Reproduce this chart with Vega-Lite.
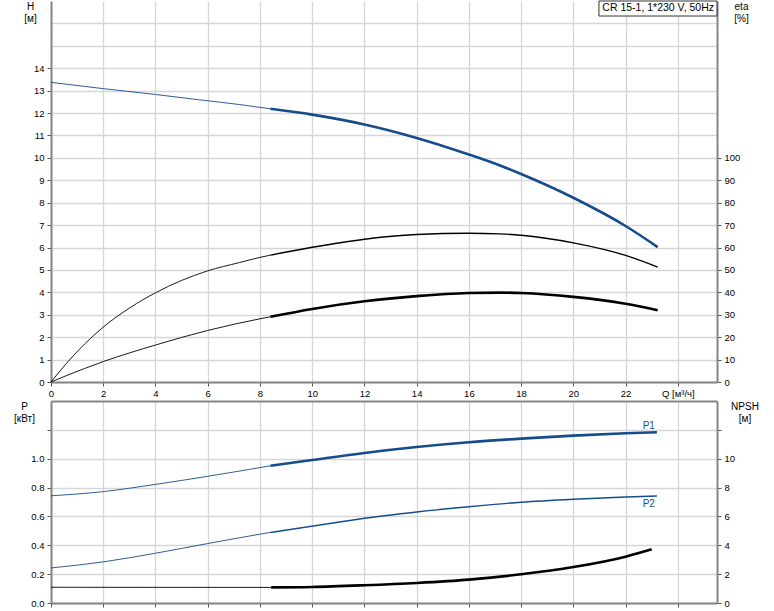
{
  "$schema": "https://vega.github.io/schema/vega-lite/v6.json",
  "padding": {"left": 13, "top": 0, "right": 5, "bottom": 0},
  "spacing": 19,
  "bounds": "flush",
  "datasets": {
    "curves": [
      {"curve": "H", "part": "thin", "Q": 0, "value": 13.37},
      {"curve": "H", "part": "thin", "Q": 2, "value": 13.09},
      {"curve": "H", "part": "thin", "Q": 4, "value": 12.83},
      {"curve": "H", "part": "thin", "Q": 5.68, "value": 12.59},
      {"curve": "H", "part": "thin", "Q": 7.22, "value": 12.38},
      {"curve": "H", "part": "thin", "Q": 8.4, "value": 12.19},
      {"curve": "H", "part": "thick", "Q": 8.4, "value": 12.19},
      {"curve": "H", "part": "thick", "Q": 10, "value": 11.93},
      {"curve": "H", "part": "thick", "Q": 12, "value": 11.49},
      {"curve": "H", "part": "thick", "Q": 14, "value": 10.89},
      {"curve": "H", "part": "thick", "Q": 16, "value": 10.15},
      {"curve": "H", "part": "thick", "Q": 17.19, "value": 9.66},
      {"curve": "H", "part": "thick", "Q": 18, "value": 9.28},
      {"curve": "H", "part": "thick", "Q": 20, "value": 8.22},
      {"curve": "H", "part": "thick", "Q": 22, "value": 6.96},
      {"curve": "H", "part": "thick", "Q": 23.23, "value": 6.02},
      {"curve": "eta pump", "part": "thin", "Q": 0, "value": 0},
      {"curve": "eta pump", "part": "thin", "Q": 0.56, "value": 7.9},
      {"curve": "eta pump", "part": "thin", "Q": 2, "value": 24.5},
      {"curve": "eta pump", "part": "thin", "Q": 3.02, "value": 33.1},
      {"curve": "eta pump", "part": "thin", "Q": 4, "value": 39.8},
      {"curve": "eta pump", "part": "thin", "Q": 6, "value": 49.6},
      {"curve": "eta pump", "part": "thin", "Q": 7.22, "value": 53.3},
      {"curve": "eta pump", "part": "thin", "Q": 8, "value": 55.6},
      {"curve": "eta pump", "part": "thin", "Q": 8.4, "value": 56.6},
      {"curve": "eta pump", "part": "medium", "Q": 8.4, "value": 56.6},
      {"curve": "eta pump", "part": "medium", "Q": 10, "value": 60.1},
      {"curve": "eta pump", "part": "medium", "Q": 12, "value": 63.7},
      {"curve": "eta pump", "part": "medium", "Q": 14, "value": 65.8},
      {"curve": "eta pump", "part": "medium", "Q": 16, "value": 66.4},
      {"curve": "eta pump", "part": "medium", "Q": 17.19, "value": 66.1},
      {"curve": "eta pump", "part": "medium", "Q": 18, "value": 65.5},
      {"curve": "eta pump", "part": "medium", "Q": 20, "value": 62.1},
      {"curve": "eta pump", "part": "medium", "Q": 22, "value": 56.5},
      {"curve": "eta pump", "part": "medium", "Q": 23.23, "value": 51.3},
      {"curve": "eta total", "part": "thin", "Q": 0, "value": 0},
      {"curve": "eta total", "part": "thin", "Q": 0.56, "value": 2.7},
      {"curve": "eta total", "part": "thin", "Q": 2, "value": 9.1},
      {"curve": "eta total", "part": "thin", "Q": 4, "value": 16.5},
      {"curve": "eta total", "part": "thin", "Q": 6, "value": 23.0},
      {"curve": "eta total", "part": "thin", "Q": 8, "value": 28.2},
      {"curve": "eta total", "part": "thin", "Q": 8.4, "value": 29.1},
      {"curve": "eta total", "part": "thick", "Q": 8.4, "value": 29.1},
      {"curve": "eta total", "part": "thick", "Q": 10, "value": 32.6},
      {"curve": "eta total", "part": "thick", "Q": 12, "value": 36.0},
      {"curve": "eta total", "part": "thick", "Q": 14, "value": 38.3},
      {"curve": "eta total", "part": "thick", "Q": 16, "value": 39.7},
      {"curve": "eta total", "part": "thick", "Q": 17.19, "value": 39.9},
      {"curve": "eta total", "part": "thick", "Q": 18, "value": 39.7},
      {"curve": "eta total", "part": "thick", "Q": 20, "value": 38.0},
      {"curve": "eta total", "part": "thick", "Q": 22, "value": 34.9},
      {"curve": "eta total", "part": "thick", "Q": 23.23, "value": 32.0},
      {"curve": "P1", "part": "thin", "Q": 0, "value": 0.743},
      {"curve": "P1", "part": "thin", "Q": 2, "value": 0.772},
      {"curve": "P1", "part": "thin", "Q": 4, "value": 0.822},
      {"curve": "P1", "part": "thin", "Q": 6, "value": 0.878},
      {"curve": "P1", "part": "thin", "Q": 7.6, "value": 0.926},
      {"curve": "P1", "part": "thin", "Q": 8.4, "value": 0.951},
      {"curve": "P1", "part": "thick", "Q": 8.4, "value": 0.951},
      {"curve": "P1", "part": "thick", "Q": 10, "value": 0.991},
      {"curve": "P1", "part": "thick", "Q": 12, "value": 1.04},
      {"curve": "P1", "part": "thick", "Q": 14, "value": 1.081},
      {"curve": "P1", "part": "thick", "Q": 16, "value": 1.114},
      {"curve": "P1", "part": "thick", "Q": 18, "value": 1.139},
      {"curve": "P1", "part": "thick", "Q": 20, "value": 1.16},
      {"curve": "P1", "part": "thick", "Q": 22, "value": 1.176},
      {"curve": "P1", "part": "thick", "Q": 23.2, "value": 1.183},
      {"curve": "P2", "part": "thin", "Q": 0, "value": 0.243},
      {"curve": "P2", "part": "thin", "Q": 2, "value": 0.285},
      {"curve": "P2", "part": "thin", "Q": 4, "value": 0.345},
      {"curve": "P2", "part": "thin", "Q": 6, "value": 0.412},
      {"curve": "P2", "part": "thin", "Q": 8, "value": 0.477},
      {"curve": "P2", "part": "thin", "Q": 8.4, "value": 0.489},
      {"curve": "P2", "part": "medium", "Q": 8.4, "value": 0.489},
      {"curve": "P2", "part": "medium", "Q": 11.3, "value": 0.568},
      {"curve": "P2", "part": "medium", "Q": 12, "value": 0.587},
      {"curve": "P2", "part": "medium", "Q": 14, "value": 0.631},
      {"curve": "P2", "part": "medium", "Q": 16, "value": 0.667},
      {"curve": "P2", "part": "medium", "Q": 18, "value": 0.698},
      {"curve": "P2", "part": "medium", "Q": 20, "value": 0.719},
      {"curve": "P2", "part": "medium", "Q": 22, "value": 0.735},
      {"curve": "P2", "part": "medium", "Q": 23.2, "value": 0.742},
      {"curve": "NPSH", "part": "thin", "Q": 0, "value": 1.09},
      {"curve": "NPSH", "part": "thin", "Q": 8.43, "value": 1.08},
      {"curve": "NPSH", "part": "thick", "Q": 8.43, "value": 1.08},
      {"curve": "NPSH", "part": "thick", "Q": 10, "value": 1.11},
      {"curve": "NPSH", "part": "thick", "Q": 12, "value": 1.23},
      {"curve": "NPSH", "part": "thick", "Q": 14, "value": 1.39},
      {"curve": "NPSH", "part": "thick", "Q": 16, "value": 1.62},
      {"curve": "NPSH", "part": "thick", "Q": 18, "value": 1.99},
      {"curve": "NPSH", "part": "thick", "Q": 20, "value": 2.49},
      {"curve": "NPSH", "part": "thick", "Q": 22, "value": 3.21},
      {"curve": "NPSH", "part": "thick", "Q": 23.0, "value": 3.72}
    ]
  },
  "vconcat": [
    {
      "width": 666,
      "height": 381,
      "layer": [
        {
          "layer": [
            {
              "data": {"name": "curves"},
              "transform": [{"filter": "datum.curve == 'H'"}],
              "mark": {"type": "line", "interpolate": "monotone", "color": "#154c8c"},
              "encoding": {
                "x": {
                  "field": "Q", "type": "quantitative",
                  "scale": {"domain": [0, 25.5], "nice": false},
                  "axis": {
                    "values": [0, 2, 4, 6, 8, 10, 12, 14, 16, 18, 20, 22, 24],
                    "labelExpr": "datum.value == 24 ? 'Q [м³/ч]' : datum.label",
                    "labelFlush": false, "labelOverlap": false, "labelPadding": 2,
                    "title": null
                  }
                },
                "y": {
                  "field": "value", "type": "quantitative",
                  "scale": {"domain": [0, 17], "nice": false},
                  "axis": {
                    "values": [0, 1, 2, 3, 4, 5, 6, 7, 8, 9, 10, 11, 12, 13, 14, 15, 16],
                    "labelExpr": "datum.value <= 14 ? datum.label : ''",
                    "labelOverlap": false,
                    "tickOpacity": {"condition": {"test": "datum.value > 14.5", "value": 0}, "value": 1},
                    "title": ["H", "[м]"], "titleX": -21, "titleY": 0
                  }
                },
                "strokeWidth": {
                  "field": "part", "type": "nominal",
                  "scale": {"type": "ordinal", "domain": ["thin", "medium", "thick"], "range": [0.9, 1.4, 2.6]},
                  "legend": null
                }
              }
            },
            {
              "data": {"values": [{"label": "CR 15-1, 1*230 V, 50Hz"}]},
              "mark": {"type": "rect", "fill": "white", "stroke": "#333", "strokeWidth": 1},
              "encoding": {
                "x": {"datum": 20.98, "type": "quantitative"},
                "x2": {"datum": 25.5},
                "y": {
                  "datum": 17, "type": "quantitative",
                  "axis": {
                    "values": [0, 1, 2, 3, 4, 5, 6, 7, 8, 9, 10, 11, 12, 13, 14, 15, 16],
                    "labelExpr": "datum.value <= 14 ? datum.label : ''",
                    "labelOverlap": false,
                    "tickOpacity": {"condition": {"test": "datum.value > 14.5", "value": 0}, "value": 1},
                    "title": ["H", "[м]"], "titleX": -21, "titleY": 0
                  }
                },
                "y2": {"datum": 16.33}
              }
            },
            {
              "data": {"values": [{"label": "CR 15-1, 1*230 V, 50Hz"}]},
              "mark": {"type": "text", "align": "right", "baseline": "top", "dx": -3, "dy": 2, "fontSize": 10.5, "color": "#000", "font": "Liberation Sans"},
              "encoding": {
                "x": {"datum": 25.5, "type": "quantitative"},
                "y": {
                  "datum": 17, "type": "quantitative",
                  "axis": {
                    "values": [0, 1, 2, 3, 4, 5, 6, 7, 8, 9, 10, 11, 12, 13, 14, 15, 16],
                    "labelExpr": "datum.value <= 14 ? datum.label : ''",
                    "labelOverlap": false,
                    "tickOpacity": {"condition": {"test": "datum.value > 14.5", "value": 0}, "value": 1},
                    "title": ["H", "[м]"], "titleX": -21, "titleY": 0
                  }
                },
                "text": {"field": "label"}
              }
            }
          ]
        },
        {
          "data": {"name": "curves"},
          "transform": [{"filter": "datum.curve == 'eta pump' || datum.curve == 'eta total'"}],
          "mark": {"type": "line", "interpolate": "monotone", "color": "#000"},
          "encoding": {
            "x": {"field": "Q", "type": "quantitative"},
            "y": {
              "field": "value", "type": "quantitative",
              "scale": {"domain": [0, 170], "nice": false},
              "axis": {
                "orient": "right", "grid": false, "labelOverlap": false,
                "values": [0, 10, 20, 30, 40, 50, 60, 70, 80, 90, 100],
                "title": ["eta", "[%]"], "titleX": 24, "titleY": 0
              }
            },
            "detail": {"field": "curve"},
            "strokeWidth": {
              "field": "part", "type": "nominal",
              "scale": {"type": "ordinal", "domain": ["thin", "medium", "thick"], "range": [0.9, 1.4, 2.6]},
              "legend": null
            }
          }
        }
      ],
      "resolve": {"scale": {"y": "independent"}}
    },
    {
      "width": 666,
      "height": 202,
      "layer": [
        {
          "layer": [
            {
              "data": {"name": "curves"},
              "transform": [{"filter": "datum.curve == 'P1' || datum.curve == 'P2'"}],
              "mark": {"type": "line", "interpolate": "monotone", "color": "#154c8c"},
              "encoding": {
                "x": {
                  "field": "Q", "type": "quantitative",
                  "scale": {"domain": [0, 25.5], "nice": false},
                  "axis": {
                    "values": [0, 2, 4, 6, 8, 10, 12, 14, 16, 18, 20, 22, 24],
                    "labels": false, "title": null
                  }
                },
                "y": {
                  "field": "value", "type": "quantitative",
                  "scale": {"domain": [0, 1.4], "nice": false},
                  "axis": {
                    "values": [0, 0.2, 0.4, 0.6, 0.8, 1.0, 1.2, 1.4],
                    "format": ".1f",
                    "labelExpr": "datum.value < 1.1 ? datum.label : ''",
                    "labelOverlap": false,
                    "tickOpacity": {"condition": {"test": "datum.value > 1.3", "value": 0}, "value": 1},
                    "gridColor": {"condition": {"test": "datum.value > 1.3", "value": "#858585"}, "value": "#d6d6d6"},
                    "gridWidth": {"condition": {"test": "datum.value > 1.3", "value": 2}, "value": 1.3},
                    "title": ["P", "[кВт]"], "titleX": -27, "titleY": 0
                  }
                },
                "detail": {"field": "curve"},
                "strokeWidth": {
                  "field": "part", "type": "nominal",
                  "scale": {"type": "ordinal", "domain": ["thin", "medium", "thick"], "range": [0.9, 1.4, 2.6]},
                  "legend": null
                }
              }
            },
            {
              "data": {"name": "curves"},
              "transform": [
                {"filter": "datum.curve == 'P1'"},
                {"joinaggregate": [{"op": "max", "field": "Q", "as": "Qmax"}]},
                {"filter": "datum.Q == datum.Qmax"}
              ],
              "mark": {"type": "text", "align": "right", "baseline": "bottom", "dx": -2, "dy": -1, "fontSize": 10, "color": "#154c8c", "font": "Liberation Sans"},
              "encoding": {
                "x": {"field": "Q", "type": "quantitative"},
                "y": {
                  "field": "value", "type": "quantitative",
                  "axis": {
                    "values": [0, 0.2, 0.4, 0.6, 0.8, 1.0, 1.2, 1.4],
                    "format": ".1f",
                    "labelExpr": "datum.value < 1.1 ? datum.label : ''",
                    "labelOverlap": false,
                    "tickOpacity": {"condition": {"test": "datum.value > 1.3", "value": 0}, "value": 1},
                    "gridColor": {"condition": {"test": "datum.value > 1.3", "value": "#858585"}, "value": "#d6d6d6"},
                    "gridWidth": {"condition": {"test": "datum.value > 1.3", "value": 2}, "value": 1.3},
                    "title": ["P", "[кВт]"], "titleX": -27, "titleY": 0
                  }
                },
                "text": {"field": "curve"}
              }
            },
            {
              "data": {"name": "curves"},
              "transform": [
                {"filter": "datum.curve == 'P2'"},
                {"joinaggregate": [{"op": "max", "field": "Q", "as": "Qmax"}]},
                {"filter": "datum.Q == datum.Qmax"}
              ],
              "mark": {"type": "text", "align": "right", "baseline": "top", "dx": -2, "dy": 3, "fontSize": 10, "color": "#154c8c", "font": "Liberation Sans"},
              "encoding": {
                "x": {"field": "Q", "type": "quantitative"},
                "y": {
                  "field": "value", "type": "quantitative",
                  "axis": {
                    "values": [0, 0.2, 0.4, 0.6, 0.8, 1.0, 1.2, 1.4],
                    "format": ".1f",
                    "labelExpr": "datum.value < 1.1 ? datum.label : ''",
                    "labelOverlap": false,
                    "tickOpacity": {"condition": {"test": "datum.value > 1.3", "value": 0}, "value": 1},
                    "gridColor": {"condition": {"test": "datum.value > 1.3", "value": "#858585"}, "value": "#d6d6d6"},
                    "gridWidth": {"condition": {"test": "datum.value > 1.3", "value": 2}, "value": 1.3},
                    "title": ["P", "[кВт]"], "titleX": -27, "titleY": 0
                  }
                },
                "text": {"field": "curve"}
              }
            }
          ]
        },
        {
          "data": {"name": "curves"},
          "transform": [{"filter": "datum.curve == 'NPSH'"}],
          "mark": {"type": "line", "interpolate": "monotone", "color": "#000"},
          "encoding": {
            "x": {"field": "Q", "type": "quantitative"},
            "y": {
              "field": "value", "type": "quantitative",
              "scale": {"domain": [0, 14], "nice": false},
              "axis": {
                "orient": "right", "grid": false, "labelOverlap": false,
                "values": [0, 2, 4, 6, 8, 10, 12, 14],
                "labelExpr": "datum.value < 11 ? datum.label : ''",
                "tickOpacity": {"condition": {"test": "datum.value > 13", "value": 0}, "value": 1},
                "title": ["NPSH", "[м]"], "titleX": 27.5, "titleY": 0
              }
            },
            "strokeWidth": {
              "field": "part", "type": "nominal",
              "scale": {"type": "ordinal", "domain": ["thin", "medium", "thick"], "range": [0.9, 1.4, 2.6]},
              "legend": null
            }
          }
        }
      ],
      "resolve": {"scale": {"y": "independent"}}
    }
  ],
  "config": {
    "font": "Liberation Sans",
    "view": {"stroke": null},
    "axis": {
      "labelFont": "Liberation Sans", "labelFontSize": 9.5, "labelColor": "#000",
      "labelOverlap": false,
      "tickColor": "#555", "tickSize": 4, "tickWidth": 1,
      "domainColor": "#858585", "domainWidth": 2,
      "grid": true, "gridColor": "#d6d6d6", "gridWidth": 1.3,
      "labelPadding": 3,
      "titleFont": "Liberation Sans", "titleFontSize": 10, "titleFontWeight": "normal", "titleColor": "#000",
      "titleAngle": 0, "titleAlign": "center", "titleBaseline": "top", "titleLineHeight": 12.5
    }
  }
}
